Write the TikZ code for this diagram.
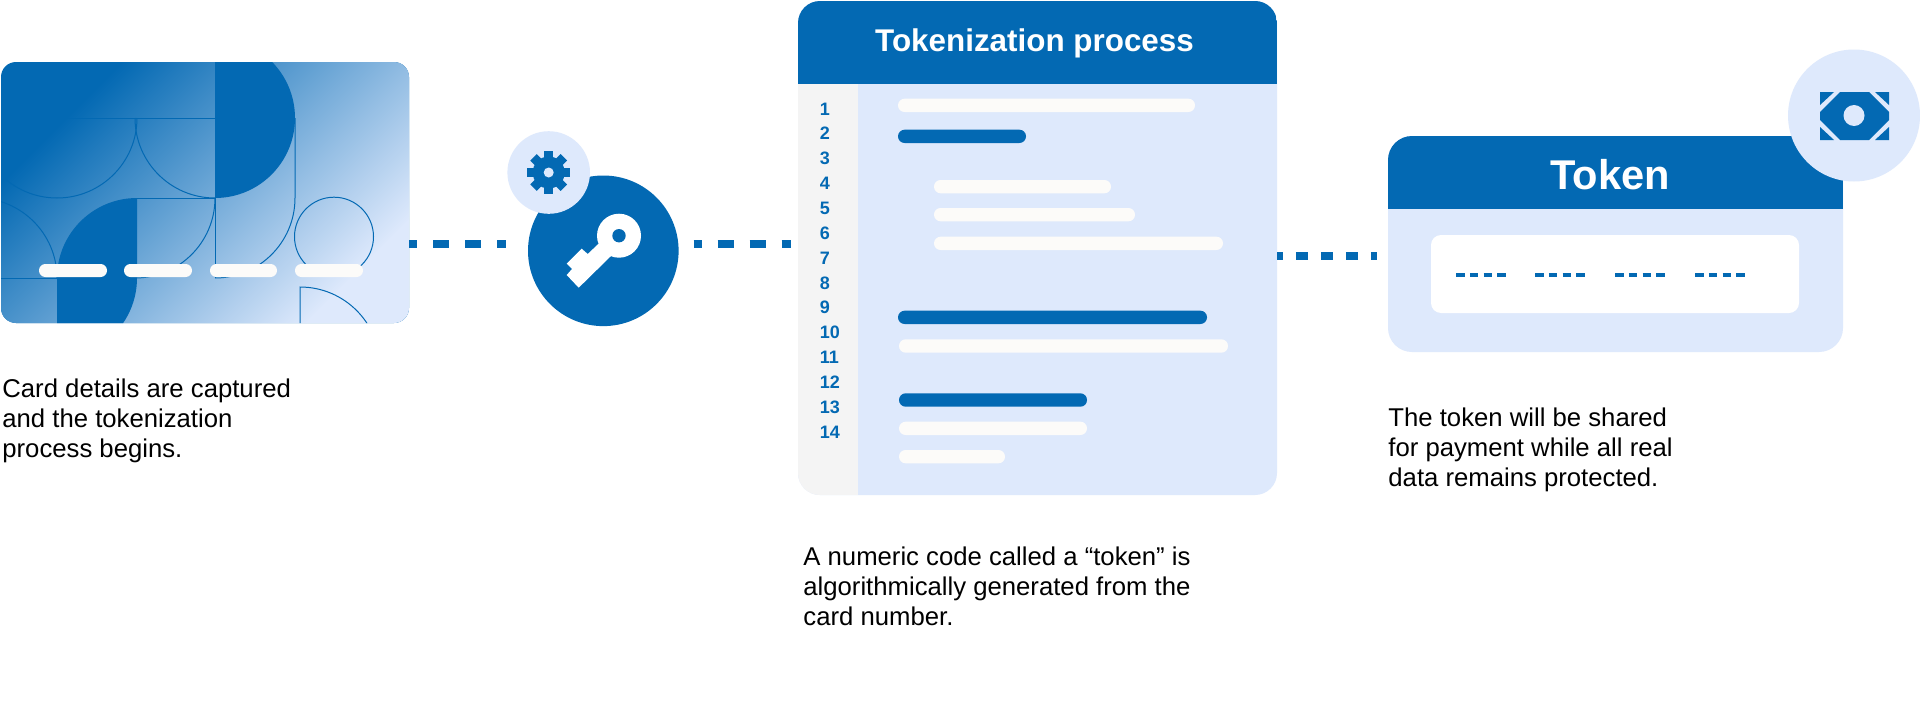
\documentclass[tikz,border=0pt]{standalone}
\usepackage{fontspec}
\setmainfont{Liberation Sans}
\usetikzlibrary{calc}
\definecolor{brand}{HTML}{0369B3}
\definecolor{pale}{HTML}{DEE9FC}
\definecolor{side}{HTML}{F4F4F4}
\definecolor{barwhite}{HTML}{FCFBF9}
\tikzset{
  x=0.5pt,y=-0.5pt,
  area/.style={inner sep=0pt,outer sep=0pt,rectangle},
  dots/.style={brand,line width=4pt,dash pattern=on 8pt off 8pt,dash phase=4pt},
  dotstoken/.style={brand,line width=4pt,dash pattern=on 6.25pt off 6.25pt,dash phase=3.125pt},
  fine/.style={brand,line width=0.5pt},
  wbar/.style={fill=barwhite,rounded corners=3.3pt},
  bbar/.style={fill=brand,rounded corners=3.3pt},
  cardbar/.style={fill=barwhite,rounded corners=3.2pt},
  num/.style={anchor=base west,inner sep=0pt,text=brand,font=\bfseries\fontsize{9pt}{9pt}\selectfont},
  caption/.style={anchor=north west,inner sep=0pt,align=left,font=\fontsize{12.85pt}{15pt}\selectfont},
  headtext/.style={anchor=base,inner sep=0pt,text=white,font=\bfseries\fontsize{#1}{#1}\selectfont},
  tdash/.style={brand,line width=2pt,dash pattern=on 4.25pt off 2.65pt},
}
\begin{document}
\begin{tikzpicture}
\useasboundingbox (0,0) rectangle (1920,712);
\fill[white] (0,0) rectangle (1920,712);
\coordinate (rowa) at (0,244);
\coordinate (rowb) at (0,256);
% ---------- card ----------
\node[area,minimum width=204pt,minimum height=130.5pt] (card) at (205,192.5) {};
\begin{scope}
  \clip[rounded corners=7.5pt] (1,62) rectangle (409,323);
  \fill[brand] (-50,-50) rectangle (500,400);
  \begin{scope}[transform canvas={rotate=-45}]
    \shade[left color=brand,right color=pale] (130,-900) rectangle (445,900);
    \fill[pale] (444,-900) rectangle (1300,900);
  \end{scope}
  \fill[brand] (215,38) arc[start angle=90,end angle=-90,radius=40pt] -- cycle;
  \fill[brand] (57,278) arc[start angle=180,end angle=90,radius=40pt] -- (137,278) arc[start angle=0,end angle=-90,radius=40pt] -- cycle;
  \draw[fine] (1,118) -- (215,118);
  \draw[fine] (137,118) arc[start angle=0,end angle=-180,radius=40pt];
  \draw[fine] (135,118) arc[start angle=180,end angle=270,radius=40pt];
  \draw[fine] (137,198) -- (215,198) -- (215,278);
  \draw[fine] (295,118) -- (295,198) arc[start angle=0,end angle=-90,radius=40pt];
  \draw[fine] (215,198) arc[start angle=0,end angle=-90,radius=40pt];
  \draw[fine] (-23,198) arc[start angle=90,end angle=0,radius=40pt];
  \draw[fine] (1,278) -- (57,278);
  \draw[fine] (334,236.7) circle[radius=19.75pt];
  \draw[fine] (300,323) -- (300,287) arc[start angle=90,end angle=0,radius=40pt];
\end{scope}
\fill[cardbar] (39,264) rectangle (107,277);
\fill[cardbar] (124,264) rectangle (192,277);
\fill[cardbar] (210,264) rectangle (277,277);
\fill[cardbar] (295,264) rectangle (363,277);
% ---------- key ----------
\node[area,circle,fill=brand,minimum size=75.3pt] (keyc) at (603.3,250.8) {};
\fill[white] (599,243.3) -- (587.7,254) -- (581.7,248.7) -- (566.7,263.7) -- (572,269) -- (566.7,275) -- (578.7,287.7) -- (611,256) -- cycle;
\fill[white] (619,235.7) circle[radius=11pt];
\fill[brand] (619,235.7) circle[radius=3.35pt];
\node[area,circle,fill=pale,minimum size=41.3pt] (gearc) at (548.7,172.5) {};
\foreach \a in {0,45,...,315}
  \fill[brand,shift={(gearc.center)},rotate=\a] (-2.3pt,0pt) rectangle (2.3pt,10.75pt);
\fill[brand] (gearc.center) circle[radius=8pt];
\fill[pale] (gearc.center) circle[radius=2.5pt];
% ---------- process ----------
\node[area,fill=pale,rounded corners=11pt,minimum width=239.5pt,minimum height=247pt] (proc) at (1037.5,248) {};
\begin{scope}
  \clip[rounded corners=11pt] (798,1) rectangle (1277,495);
  \fill[brand] (798,1) rectangle (1277,84);
  \fill[side] (798,84) rectangle (858,495);
\end{scope}
\node[headtext=15.7pt] (ptitle) at (1034.5,51) {Tokenization process};
\foreach \n in {1,...,14}
  \node[num] (n\n) at (819.5,{115+(\n-1)*24.87}) {\n};
\fill[wbar] (898,98.7) rectangle (1195,112);
\fill[bbar] (898,129.7) rectangle (1026,143);
\fill[wbar] (934,180) rectangle (1111,193.3);
\fill[wbar] (934,208) rectangle (1135,221.3);
\fill[wbar] (934,236.7) rectangle (1223,250);
\fill[bbar] (898,310.7) rectangle (1207,324);
\fill[wbar] (899,339.3) rectangle (1228,352.7);
\fill[bbar] (899,393.3) rectangle (1087,406.7);
\fill[wbar] (899,421.7) rectangle (1087,435);
\fill[wbar] (899,450) rectangle (1005,463.3);
% ---------- token ----------
\node[area,fill=pale,rounded corners=12pt,minimum width=227.5pt,minimum height=108pt] (token) at (1615.5,244) {};
\begin{scope}
  \clip[rounded corners=12pt] (1388,136) rectangle (1843,352);
  \fill[brand] (1388,136) rectangle (1843,209);
\end{scope}
\node[headtext=20.8pt] (ttitle) at (1610,189.3) {Token};
\node[area,fill=white,rounded corners=5pt,minimum width=184pt,minimum height=39pt] (tfield) at (1615,274) {};
\coordinate (d1a) at (1456,274.7); \coordinate (d1b) at (1507,274.7);
\coordinate (d2a) at (1535,274.7); \coordinate (d2b) at (1586,274.7);
\coordinate (d3a) at (1615,274.7); \coordinate (d3b) at (1666,274.7);
\coordinate (d4a) at (1695,274.7); \coordinate (d4b) at (1746,274.7);
\draw[tdash] (d1a) -- (d1b); \draw[tdash] (d2a) -- (d2b);
\draw[tdash] (d3a) -- (d3b); \draw[tdash] (d4a) -- (d4b);
\node[area,circle,fill=pale,minimum size=66pt] (bill) at (1854,115.5) {};
\fill[brand] (1840,92) -- (1869,92) -- (1889,112) -- (1889,120) -- (1869,140) -- (1840,140) -- (1820,120) -- (1820,112) -- cycle;
\fill[pale] (bill.center) circle[radius=5.25pt];
\fill[brand] (1820,92) -- (1834,92) -- (1820,105) -- cycle;
\fill[brand] (1889,92) -- (1875,92) -- (1889,105) -- cycle;
\fill[brand] (1820,140) -- (1834,140) -- (1820,127) -- cycle;
\fill[brand] (1889,140) -- (1875,140) -- (1889,127) -- cycle;
% ---------- connectors ----------
\draw[dots,shorten >=11pt] (card.east |- rowa) -- (keyc.west |- rowa);
\draw[dots,shorten <=7.5pt,shorten >=3.5pt] (keyc.east |- rowa) -- (proc.west |- rowa);
\draw[dotstoken,shorten >=5.5pt] (proc.east |- rowb) -- (token.west |- rowb);
% ---------- captions ----------
\node[caption] (capa) at (2,378) {Card details are captured\\and the tokenization\\process begins.};
\node[caption] (capb) at (803,546.5) {A numeric code called a “token” is\\algorithmically generated from the\\card number.};
\node[caption] (capc) at (1388,407) {The token will be shared\\for payment while all real\\data remains protected.};
\end{tikzpicture}
\end{document}
